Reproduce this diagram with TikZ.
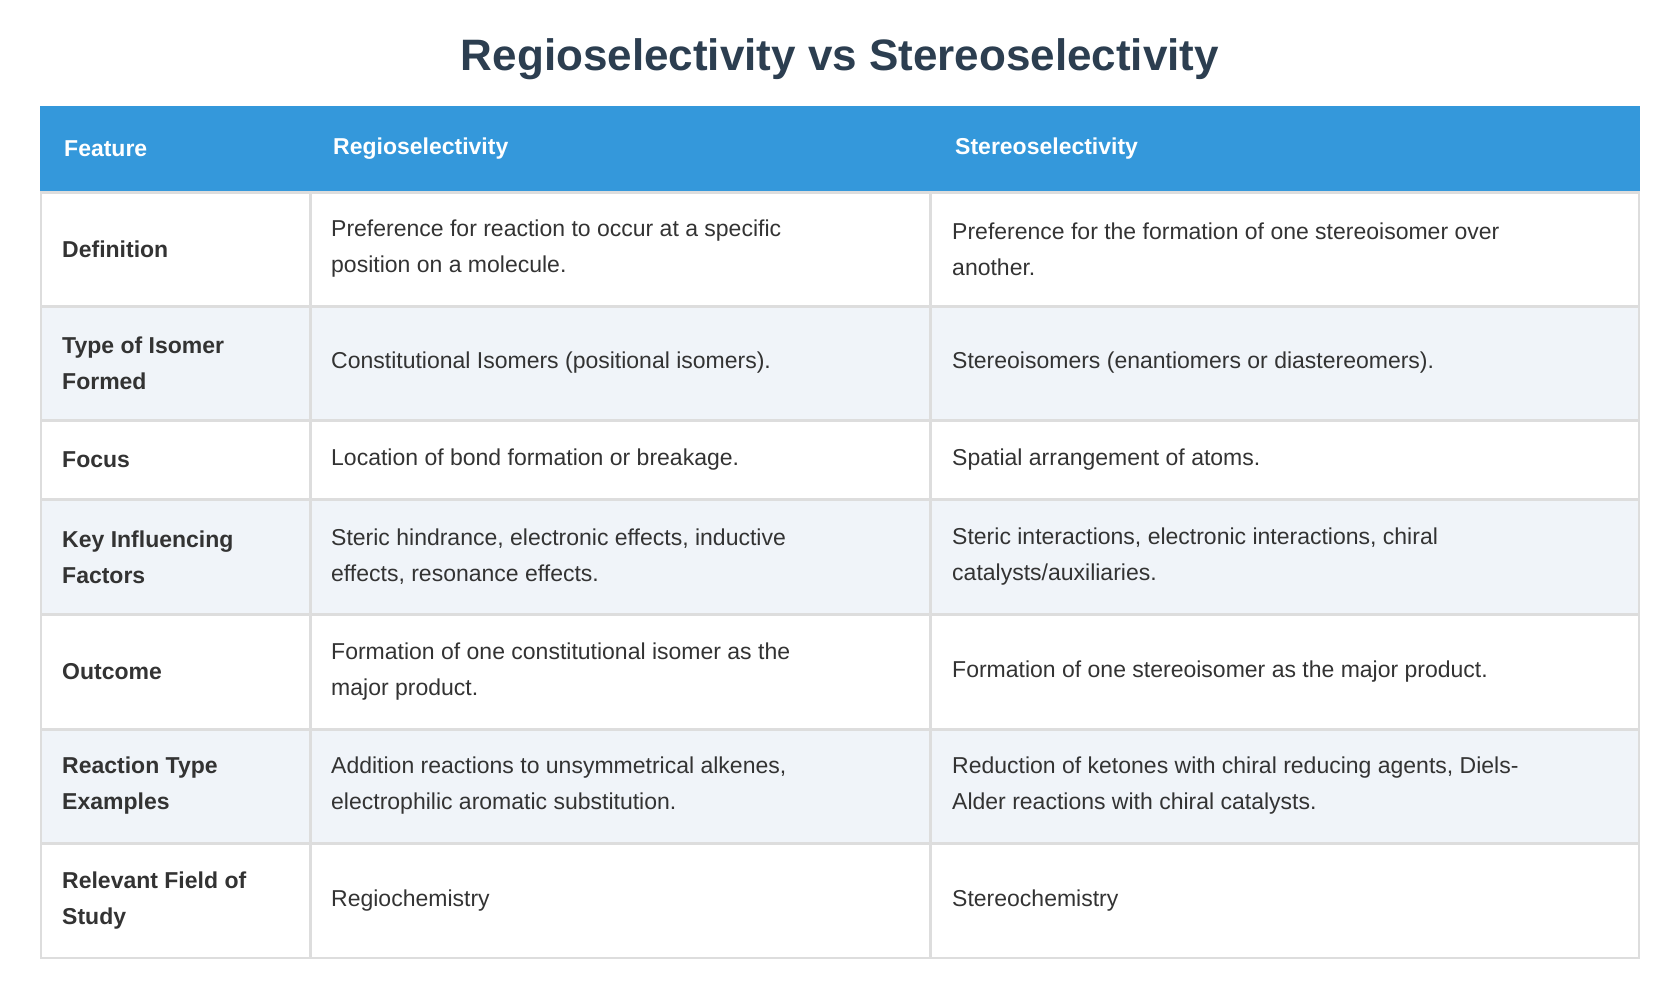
\documentclass[tikz,border=0pt]{standalone}
\usepackage{fontspec}
\setmainfont{Liberation Sans}
\definecolor{titlecol}{HTML}{2C3E50}
\definecolor{headcol}{HTML}{3498DB}
\definecolor{stripe}{HTML}{F0F4F9}
\definecolor{gridcol}{HTML}{DDDDDD}
\definecolor{textcol}{HTML}{333333}
\tikzset{
 cell/.style={anchor=west,align=left,text=textcol,font=\fontsize{23}{36}\selectfont,inner sep=0pt},
 feat/.style={cell,font=\fontsize{23}{36}\selectfont\bfseries},
 head/.style={anchor=west,text=white,font=\fontsize{23}{28}\selectfont\bfseries,inner sep=0pt}
}
\begin{document}
\begin{tikzpicture}[x=1pt,y=-1pt]
 \useasboundingbox (0,0) rectangle (1680,1002);
 \node[font=\fontsize{44}{50}\selectfont\bfseries,text=titlecol] (title) at (840,59) {Regioselectivity vs Stereoselectivity};
 % stripes
 \foreach \a/\b in {306/420,499/614,729/843}
  \fill[stripe] (41,\a) rectangle (1639,\b);
 % grid
 \foreach \y in {192,306,420,499,614,729,843}
  \draw[gridcol,line width=3pt] (41,\y) -- (1639,\y);
 \foreach \x in {310,930}
  \draw[gridcol,line width=3pt] (\x,192) -- (\x,958);
 \draw[gridcol,line width=2pt] (41,107) rectangle (1639,958);
 \fill[headcol] (40,106) rectangle (1640,191);
 % header
 \node[head] (h1) at (64,149) {Feature};
 \node[head] (h2) at (333,149) {Regioselectivity};
 \node[head] (h3) at (955,149) {Stereoselectivity};
 % rows
 \node[feat] (f1) at (62,249) {Definition};
 \node[cell] (r1) at (331,249) {Preference for reaction to occur at a specific\\position on a molecule.};
 \node[cell] (s1) at (952,249) {Preference for the formation of one stereoisomer over\\another.};
 \node[feat] (f2) at (62,363) {Type of Isomer\\Formed};
 \node[cell] (r2) at (331,363) {Constitutional Isomers (positional isomers).};
 \node[cell] (s2) at (952,363) {Stereoisomers (enantiomers or diastereomers).};
 \node[feat] (f3) at (62,460) {Focus};
 \node[cell] (r3) at (331,460) {Location of bond formation or breakage.};
 \node[cell] (s3) at (952,460) {Spatial arrangement of atoms.};
 \node[feat] (f4) at (62,557) {Key Influencing\\Factors};
 \node[cell] (r4) at (331,557) {Steric hindrance, electronic effects, inductive\\effects, resonance effects.};
 \node[cell] (s4) at (952,557) {Steric interactions, electronic interactions, chiral\\catalysts/auxiliaries.};
 \node[feat] (f5) at (62,672) {Outcome};
 \node[cell] (r5) at (331,672) {Formation of one constitutional isomer as the\\major product.};
 \node[cell] (s5) at (952,672) {Formation of one stereoisomer as the major product.};
 \node[feat] (f6) at (62,786) {Reaction Type\\Examples};
 \node[cell] (r6) at (331,786) {Addition reactions to unsymmetrical alkenes,\\electrophilic aromatic substitution.};
 \node[cell] (s6) at (952,786) {Reduction of ketones with chiral reducing agents, Diels-\\Alder reactions with chiral catalysts.};
 \node[feat] (f7) at (62,901) {Relevant Field of\\Study};
 \node[cell] (r7) at (331,901) {Regiochemistry};
 \node[cell] (s7) at (952,901) {Stereochemistry};
\end{tikzpicture}
\end{document}
